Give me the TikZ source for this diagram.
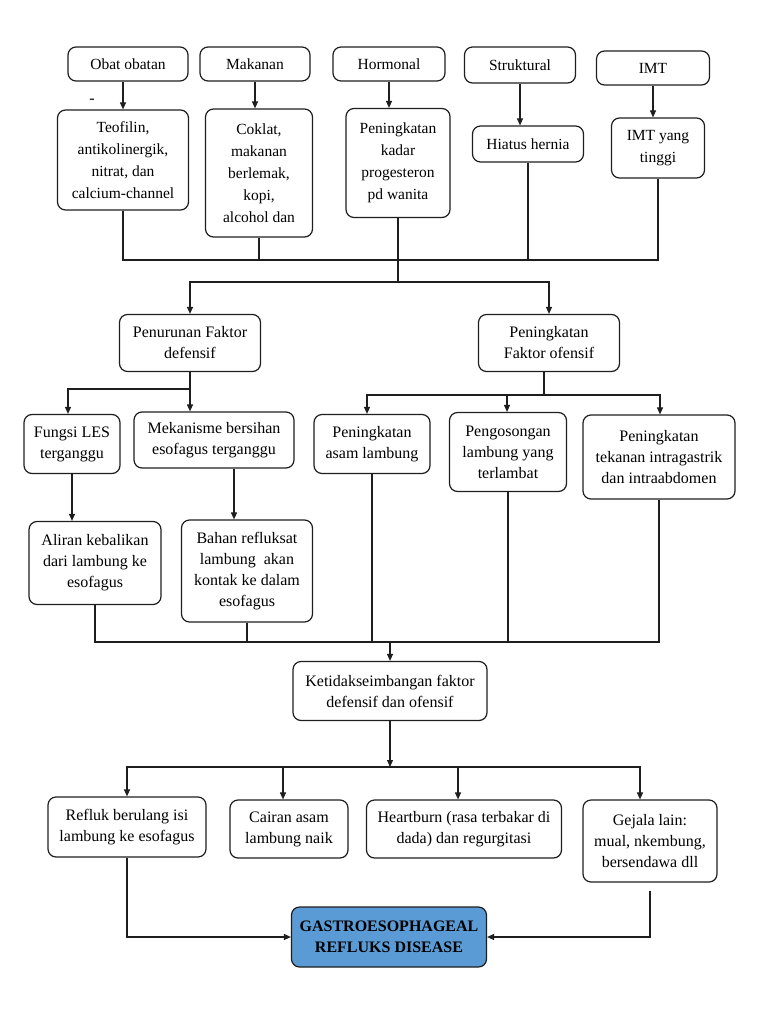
\documentclass[tikz,border=0pt]{standalone}
\usepackage{fontspec}
\setmainfont{Liberation Serif}
\usepackage{tikz}
\usetikzlibrary{arrows.meta, positioning, calc}
\definecolor{gerdblue}{RGB}{91, 155, 213}
\definecolor{lineink}{RGB}{30, 30, 30}

\begin{document}
\begin{tikzpicture}[x=1pt, y=-1pt,
    box/.style={draw=lineink, line width=1.2pt, rounded corners=8pt, align=center,
        inner sep=2pt, font=\fontsize{16}{21}\selectfont},
    topbox/.style={box, font=\fontsize{15.5}{22}\selectfont},
    arr/.style={-{Triangle[length=7pt, width=6pt]}, line width=1.1pt, lineink},
    link/.style={line width=1.1pt, lineink}]
    \useasboundingbox (0,0) rectangle (768,1024);

    % Risk factor categories
    \node[topbox, minimum width=120pt, minimum height=34pt] (obat) at (128,64) {Obat obatan};
    \node[topbox, minimum width=110pt, minimum height=34pt] (makanan) at (255,64) {Makanan};
    \node[topbox, minimum width=112pt, minimum height=34pt] (hormonal) at (389,64) {Hormonal};
    \node[topbox, minimum width=111pt, minimum height=36pt] (struktural) at (520,65) {Struktural};
    \node[topbox, minimum width=113pt, minimum height=34pt] (imt) at (653,68) {IMT};
    \node[font=\fontsize{16}{21}\selectfont] (strip) at (92,101) {-};

    % Details of each category
    \node[topbox, minimum width=131pt, minimum height=100pt] (teofilin) at (123,160)
        {Teofilin,\\ antikolinergik,\\ nitrat, dan\\ calcium-channel};
    \node[topbox, minimum width=107pt, minimum height=128pt] (coklat) at (259,173)
        {Coklat,\\ makanan\\ berlemak,\\ kopi,\\ alcohol dan};
    \node[topbox, minimum width=104pt, minimum height=109pt] (kadar) at (398,163)
        {Peningkatan\\ kadar\\ progesteron\\ pd wanita};
    \node[topbox, minimum width=111pt, minimum height=36pt] (hiatus) at (528,144) {Hiatus hernia};
    \node[topbox, minimum width=93pt, minimum height=60pt] (imttinggi) at (658,148) {IMT yang\\ tinggi};

    \draw[arr] (teofilin.north |- obat.south) -- (teofilin.north);
    \draw[arr] (makanan.south) -- (makanan.south |- coklat.north);
    \draw[arr] (hormonal.south) -- (hormonal.south |- kadar.north);
    \draw[arr] (struktural.south) -- (struktural.south |- hiatus.north);
    \draw[arr] (imt.south) -- (imt.south |- imttinggi.north);

    % Collect and split into the two factors
    \coordinate (jA) at (398,260);
    \coordinate (jB) at (398,282);
    \node[box, minimum width=141pt, minimum height=57pt] (penurunan) at (190,343)
        {Penurunan Faktor\\ defensif};
    \node[box, minimum width=141pt, minimum height=57pt] (ofensif) at (549,343)
        {Peningkatan\\ Faktor ofensif};
    \draw[link] (teofilin.south) |- (jA) -| (imttinggi.south);
    \draw[link] (coklat.south) -- (coklat.south |- jA);
    \draw[link] (hiatus.south) -- (hiatus.south |- jA);
    \draw[link] (kadar.south) -- (jB);
    \draw[arr] (jB) -| (penurunan.north);
    \draw[arr] (jB) -| (ofensif.north);

    % Defensive side
    \node[box, minimum width=96pt, minimum height=59pt] (fungsi) at (72,444) {Fungsi LES\\ terganggu};
    \node[box, minimum width=160pt, minimum height=56pt] (mekanisme) at (214,440)
        {Mekanisme bersihan\\ esofagus terganggu};
    \node[box, minimum width=132pt, minimum height=83pt] (aliran) at (95,563)
        {Aliran kebalikan\\ dari lambung ke\\ esofagus};
    \node[box, minimum width=131pt, minimum height=102pt] (bahan) at (247,571)
        {Bahan refluksat\\ lambung\ \ akan\\ kontak ke dalam\\ esofagus};
    \coordinate (jC) at (190,389);
    \draw[link] (penurunan.south) -- (jC);
    \draw[arr] (jC) -| ([xshift=-4pt]fungsi.north);
    \draw[arr] (jC) -- (jC |- mekanisme.north);
    \draw[arr] (fungsi.south) -- (fungsi.south |- aliran.north);
    \draw[arr] ([xshift=20pt]mekanisme.south) -- ([xshift=20pt]mekanisme.south |- bahan.north);

    % Offensive side
    \node[box, minimum width=116pt, minimum height=59pt] (asam) at (372,444)
        {Peningkatan\\ asam lambung};
    \node[box, minimum width=117pt, minimum height=79pt] (pengosongan) at (508,452)
        {Pengosongan\\ lambung yang\\ terlambat};
    \node[box, minimum width=152pt, minimum height=84pt] (tekanan) at (659,457)
        {Peningkatan\\ tekanan intragastrik\\ dan intraabdomen};
    \coordinate (jD) at (544,395);
    \draw[link] (jD |- ofensif.south) -- (jD);
    \draw[arr] (jD) -| ([xshift=-5pt]asam.north);
    \draw[arr] (jD) -| ([xshift=-1pt]pengosongan.north);
    \draw[arr] (jD) -| ([xshift=1pt]tekanan.north);

    % Imbalance
    \node[box, minimum width=194pt, minimum height=59pt] (ketidak) at (390,691)
        {Ketidakseimbangan faktor\\ defensif dan ofensif};
    \coordinate (jE) at (390,642);
    \draw[link] (aliran.south) |- (jE) -| (tekanan.south);
    \draw[link] (bahan.south) -- (bahan.south |- jE);
    \draw[link] (asam.south) -- (asam.south |- jE);
    \draw[link] (pengosongan.south) -- (pengosongan.south |- jE);
    \draw[arr] (jE) -- (ketidak.north);

    % Symptoms
    \node[box, minimum width=158pt, minimum height=60pt] (refluk) at (127,827)
        {Refluk berulang isi\\ lambung ke esofagus};
    \node[box, minimum width=118pt, minimum height=58pt] (cairan) at (289,829)
        {Cairan asam\\ lambung naik};
    \node[box, minimum width=195pt, minimum height=58pt] (heartburn) at (464,829)
        {Heartburn (rasa terbakar di\\ dada) dan regurgitasi};
    \node[box, minimum width=134pt, minimum height=82pt] (gejala) at (650,841)
        {Gejala lain:\\ mual, nkembung,\\ bersendawa dll};
    \coordinate (jF) at (390,767);
    \draw[arr] (ketidak.south) -- (jF);
    \draw[arr] (jF) -| (refluk.north);
    \draw[arr] (jF) -| ([xshift=-6pt]cairan.north);
    \draw[arr] (jF) -| ([xshift=-6pt]heartburn.north);
    \draw[arr] (jF) -| ([xshift=-10pt]gejala.north);

    % Final diagnosis
    \node[box, fill=gerdblue, minimum width=195pt, minimum height=60pt,
        font=\fontsize{16}{21}\selectfont\bfseries] (gerd) at (389,937)
        {GASTROESOPHAGEAL\\ REFLUKS DISEASE};
    \draw[arr] (refluk.south) |- (gerd.west);
    \draw[arr] ([yshift=-8pt]gejala.south) |- (gerd.east);
\end{tikzpicture}
\end{document}
